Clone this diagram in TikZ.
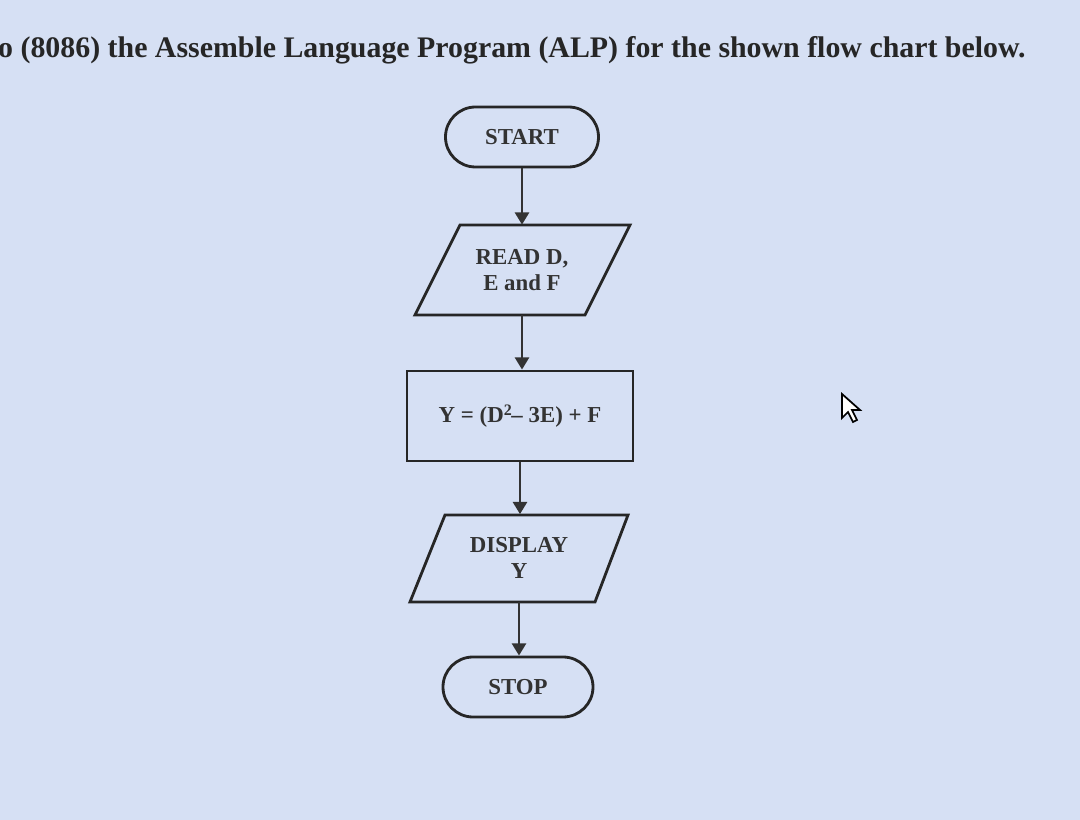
\documentclass[tikz,border=0pt]{standalone}
\usepackage{fontspec}
\setmainfont{Liberation Serif}
\usetikzlibrary{arrows.meta}
\definecolor{bgc}{RGB}{214,224,244}
\begin{document}
\begin{tikzpicture}[x=0.02cm,y=-0.02cm,
  box/.style={line width=1.6pt,draw=black!85},
  lbl/.style={font=\fontsize{13}{15}\selectfont\bfseries,text=black!80,align=center},
  conn/.style={line width=1.6pt,draw=black!80,-{Triangle[length=7pt,width=8pt]}}]
\fill[bgc] (0,0) rectangle (1080,820);
\useasboundingbox (0,0) rectangle (1080,820);
\node[anchor=base west,font=\fontsize{17}{20}\selectfont\bfseries,text=black!85] (title) at (-8,58) {o (8086) the Assemble Language Program (ALP) for the shown flow chart below.};
\node[box,rounded corners=30*0.02cm,minimum width=153*0.02cm,minimum height=60*0.02cm,lbl] (start) at (522,137) {START};
\draw[box] (460,225) -- (630,225) -- (585,315) -- (415,315) -- cycle;
\node[lbl,minimum width=170*0.02cm,minimum height=90*0.02cm,inner sep=0] (read) at (522,270) {READ D,\\E and F};
\node[box,minimum width=226*0.02cm,minimum height=90*0.02cm,lbl] (proc) at (520,416) {Y = (D$^{\mathbf 2}$\kern-0.3em\ -- 3E) + F};
\draw[box] (445,515) -- (628,515) -- (595,602) -- (410,602) -- cycle;
\node[lbl,minimum width=183*0.02cm,minimum height=87*0.02cm,inner sep=0] (disp) at (519,558) {DISPLAY\\Y};
\node[box,rounded corners=30*0.02cm,minimum width=150*0.02cm,minimum height=60*0.02cm,lbl] (stop) at (518,687) {STOP};
\draw[conn] (start.south) -- (start.south |- read.north);
\draw[conn] (read.south) -- (read.south |- proc.north);
\draw[conn] (proc.south) -- (proc.south |- disp.north);
\draw[conn] (disp.south) -- (disp.south |- stop.north);
\draw[line width=1pt,fill=white] (842,394) -- (842,418) -- (848,412) -- (853,422) -- (857,420) -- (852,410) -- (860,410) -- cycle;
\end{tikzpicture}
\end{document}
